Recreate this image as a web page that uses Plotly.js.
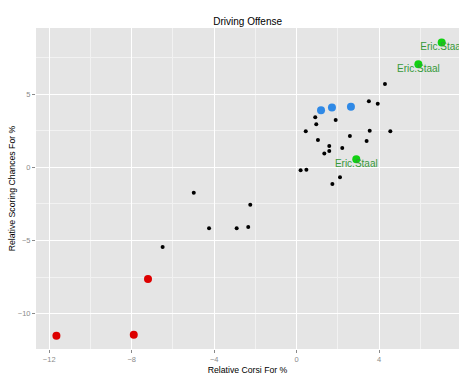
<!DOCTYPE html>
<html>
<head>
<meta charset="utf-8">
<script src="https://cdn.plot.ly/plotly-3.0.1.min.js"></script>
<style>html,body{margin:0;padding:0;background:#fff;}#chart{width:474px;height:382px;}</style>
</head>
<body>
<div id="chart"></div>
<script>
// Data
const blackX = [4.28, 3.50, 3.93, 0.90, 1.89, 0.95, 0.44, 3.54, 4.54, 1.03, 2.58, 3.39, 1.58, 2.21, 1.58, 1.34, 0.19, 0.47, 2.10, 1.73, -4.99, -2.25, -4.25, -2.91, -2.35, -6.50];
const blackY = [5.72, 4.53, 4.37, 3.44, 3.25, 2.96, 2.48, 2.52, 2.48, 1.88, 2.16, 1.82, 1.47, 1.34, 1.13, 0.95, -0.19, -0.15, -0.67, -1.13, -1.73, -2.55, -4.16, -4.16, -4.08, -5.45];
const blueX = [1.18, 1.71, 2.63];
const blueY = [3.92, 4.10, 4.16];
const greenX = [7.03, 5.90, 2.89];
const greenY = [8.55, 7.07, 0.56];
const greenLabels = ["Eric.Staal", "Eric.Staal", "Eric.Staal"];
const redX = [-11.65, -7.90, -7.21];
const redY = [-11.52, -11.45, -7.64];

const chartTitle = "Driving Offense";
const xTitle = "Relative Corsi For %";
const yTitle = "Relative Scoring Chances For %";

const FONT = "Liberation Sans, Arial, sans-serif";

const traces = [
  {x: blackX, y: blackY, type: 'scatter', mode: 'markers',
   marker: {color: '#000000', size: 4}, hoverinfo: 'skip'},
  {x: blueX, y: blueY, type: 'scatter', mode: 'markers',
   marker: {color: '#2F89E6', size: 8}, hoverinfo: 'skip'},
  {x: greenX, y: greenY, type: 'scatter', mode: 'markers',
   marker: {color: '#11D111', size: 8}, hoverinfo: 'skip'},
  {x: redX, y: redY, type: 'scatter', mode: 'markers',
   marker: {color: '#DD0000', size: 8}, hoverinfo: 'skip'},
  {x: greenX, y: greenY, text: greenLabels, type: 'scatter', mode: 'text',
   textposition: 'bottom center', cliponaxis: true,
   textfont: {family: FONT, size: 10, color: '#36993A'}, hoverinfo: 'skip'}
];

const axisCommon = {
  showgrid: true, gridcolor: '#FFFFFF', gridwidth: 1,
  zeroline: false, showline: false,
  ticks: 'outside', ticklen: 3, tickwidth: 1, tickcolor: '#8A8A8A',
  tickfont: {family: FONT, size: 7.5, color: '#8A8A8A'},
  fixedrange: true
};

const layout = {
  width: 474, height: 382,
  margin: {l: 36, r: 15, t: 28, b: 33, pad: 0},
  paper_bgcolor: '#FFFFFF',
  plot_bgcolor: '#E5E5E5',
  showlegend: false,
  title: {text: chartTitle, font: {family: FONT, size: 10, color: '#000000'},
          x: 0.5225, xanchor: 'center', y: 0.943, yanchor: 'middle', yref: 'container'},
  xaxis: Object.assign({}, axisCommon, {
    range: [-12.64, 7.87], tickmode: 'linear', tick0: 0, dtick: 4,
    minor: {dtick: 2, tick0: 0, showgrid: true, gridcolor: '#F2F2F2', gridwidth: 1, ticks: ''},
    title: {text: xTitle, font: {family: FONT, size: 8.7, color: '#000000'}, standoff: 3}
  }),
  yaxis: Object.assign({}, axisCommon, {
    range: [-12.43, 9.55], tickmode: 'linear', tick0: 0, dtick: 5,
    minor: {dtick: 2.5, tick0: 0, showgrid: true, gridcolor: '#F2F2F2', gridwidth: 1, ticks: ''},
    title: {text: yTitle, font: {family: FONT, size: 8.7, color: '#000000'}, standoff: 0}
  })
};

Plotly.newPlot('chart', traces, layout, {staticPlot: true, displayModeBar: false});
</script>
</body>
</html>
